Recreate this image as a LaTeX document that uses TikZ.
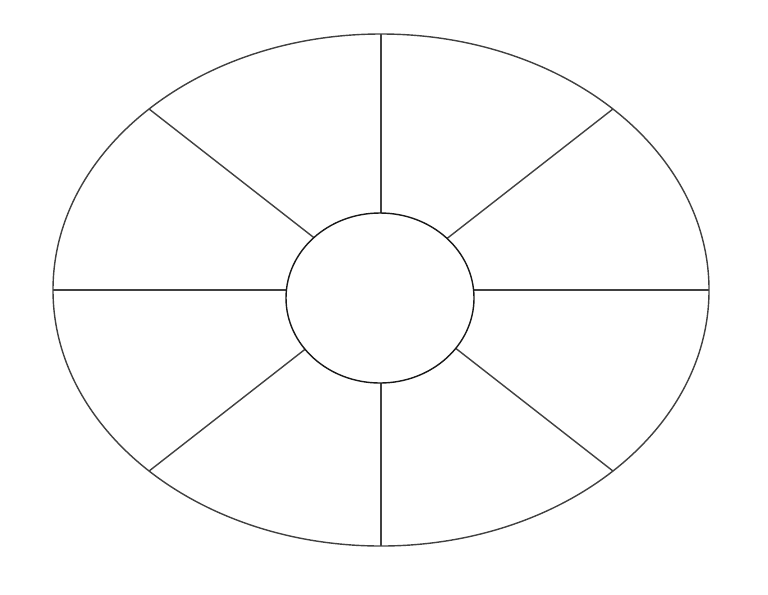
\documentclass[tikz,border=0pt]{standalone}
\usepackage{tikz}
\usetikzlibrary{calc}
\begin{document}
\begin{tikzpicture}[x=0.01cm,y=-0.01cm]
		\useasboundingbox (0,0) rectangle (768,594);
		\coordinate (centre) at (381,290);
		\coordinate (hub) at (380,298);
		\foreach \a in {0,45,...,315}
			\draw[thin,black!75] (centre) -- ($(centre)+(\a:328 and 256)$);
		\draw[thin,black!75] (centre) ellipse (328 and 256);
		\draw[thin,black!90,fill=white] (hub) ellipse (94 and 85);
	\end{tikzpicture}
\end{document}
